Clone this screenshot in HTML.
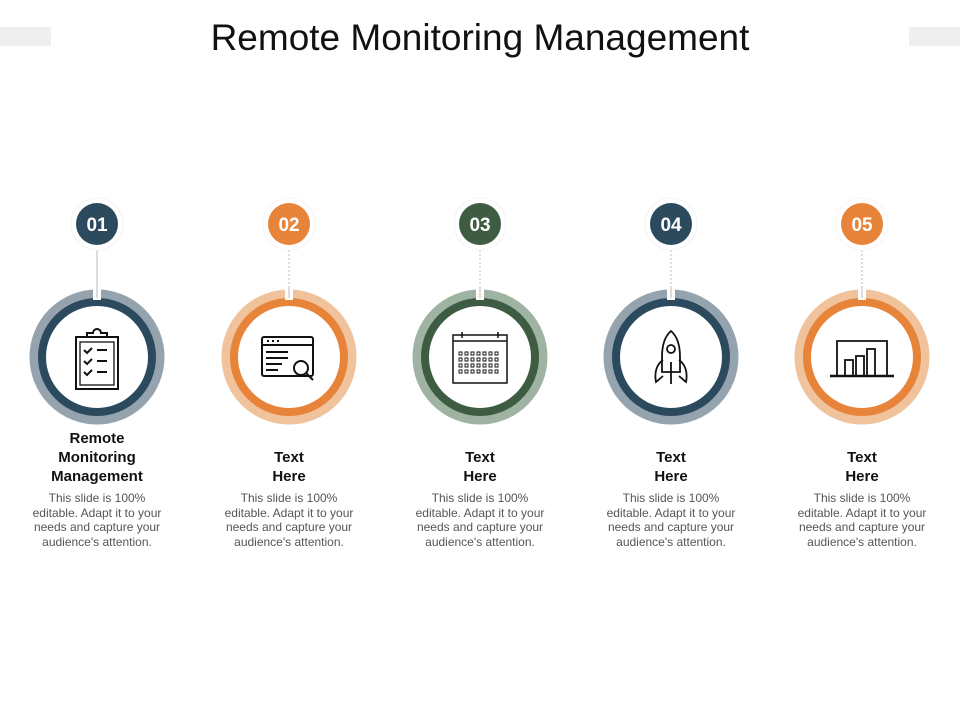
<!DOCTYPE html>
<html><head><meta charset="utf-8"><style>
html,body{margin:0;padding:0;background:#fff;}
body{width:960px;height:720px;position:relative;overflow:hidden;font-family:"Liberation Sans",Arial,sans-serif;}
.title{position:absolute;left:0;width:960px;top:16px;text-align:center;font-size:37px;color:#111;line-height:44px;}
.bar{position:absolute;top:27px;height:19px;width:51px;background:#efefef;}
.lab{position:absolute;width:150px;text-align:center;font-weight:bold;font-size:15px;line-height:19px;color:#111;}
.txt{position:absolute;top:491px;width:150px;text-align:center;font-size:12px;line-height:14.5px;color:#555;}
svg{position:absolute;left:0;top:0;}
</style></head><body>
<div class="bar" style="left:0"></div><div class="bar" style="left:909px"></div>
<div class="title">Remote Monitoring Management</div>
<svg width="960" height="720" viewBox="0 0 960 720">
<g fill="none">
<!-- 1 -->
<g transform="translate(97,0)">
<line x1="0" y1="250" x2="0" y2="297" stroke="#bbb" stroke-width="1"/>
<circle cx="0" cy="224" r="26" fill="#fff" stroke="#f3f3f3" stroke-width="1"/>
<circle cx="0" cy="224" r="21" fill="#2c4a5e"/>
<circle cx="0" cy="357" r="63" stroke="#94a3ad" stroke-width="9"/>
<circle cx="0" cy="357" r="55" stroke="#2c4a5e" stroke-width="8"/>
<rect x="-4" y="288" width="8" height="12" fill="#fff"/>
<line x1="0" y1="288" x2="0" y2="298" stroke="#bbb"/>
<text x="0" y="231" fill="#fff" font-size="19" font-weight="bold" text-anchor="middle" font-family="Liberation Sans,sans-serif">01</text>
<g stroke="#111" stroke-width="2">
<rect x="-21" y="-24" width="42" height="52" transform="translate(0,361)" />
<rect x="-17" y="-19" width="34" height="43" transform="translate(0,361)" stroke-width="1.3"/>
<path d="M-10 337 h20 v-4 h-6 a4 4 0 0 0 -8 0 h-6z" fill="#fff"/>
<path d="M-13 350 l3 3 l5 -5 M0 350 h10 M-13 361 l3 3 l5 -5 M0 361 h10 M-13 372 l3 3 l5 -5 M0 372 h10"/>
</g>
</g>
<!-- 2 -->
<g transform="translate(289,0)">
<line x1="0" y1="250" x2="0" y2="297" stroke="#bbb" stroke-dasharray="2 2"/>
<circle cx="0" cy="224" r="26" fill="#fff" stroke="#fdf3ea"/>
<circle cx="0" cy="224" r="21" fill="#e8843a"/>
<circle cx="0" cy="357" r="63" stroke="#f0c39c" stroke-width="9"/>
<circle cx="0" cy="357" r="55" stroke="#e8843a" stroke-width="8"/>
<rect x="-4" y="288" width="8" height="12" fill="#fff"/>
<line x1="0" y1="288" x2="0" y2="298" stroke="#bbb"/>
<text x="0" y="231" fill="#fff" font-size="19" font-weight="bold" text-anchor="middle" font-family="Liberation Sans,sans-serif">02</text>
<g stroke="#111" stroke-width="2">
<rect x="-27" y="337" width="51" height="39" rx="2"/>
<line x1="-27" y1="345" x2="24" y2="345"/>
<path d="M-22 341 h2 M-17 341 h2 M-12 341 h2 M-23 352 h22 M-23 358 h22 M-23 364 h16 M-23 370 h12"/>
<circle cx="12" cy="368" r="7" fill="#fff"/>
<line x1="17" y1="373" x2="24" y2="380"/>
</g>
</g>
<!-- 3 -->
<g transform="translate(480,0)">
<line x1="0" y1="250" x2="0" y2="297" stroke="#bbb" stroke-dasharray="2 2"/>
<circle cx="0" cy="224" r="26" fill="#fff" stroke="#f3f3f3"/>
<circle cx="0" cy="224" r="21" fill="#3d5c42"/>
<circle cx="0" cy="357" r="63" stroke="#9fb3a2" stroke-width="9"/>
<circle cx="0" cy="357" r="55" stroke="#3d5c42" stroke-width="8"/>
<rect x="-4" y="288" width="8" height="12" fill="#fff"/>
<line x1="0" y1="288" x2="0" y2="298" stroke="#bbb"/>
<text x="0" y="231" fill="#fff" font-size="19" font-weight="bold" text-anchor="middle" font-family="Liberation Sans,sans-serif">03</text>
<g stroke="#111" stroke-width="1.5">
<rect x="-27" y="335" width="54" height="48"/>
<line x1="-27" y1="341" x2="27" y2="341"/>
<path d="M-18 332 v6 M18 332 v6"/>
<g stroke-width="0.9">
<path d="M-21 352h3v3h-3z M-15 352h3v3h-3z M-9 352h3v3h-3z M-3 352h3v3h-3z M3 352h3v3h-3z M9 352h3v3h-3z M15 352h3v3h-3z"/>
<path d="M-21 358h3v3h-3z M-15 358h3v3h-3z M-9 358h3v3h-3z M-3 358h3v3h-3z M3 358h3v3h-3z M9 358h3v3h-3z M15 358h3v3h-3z"/>
<path d="M-21 364h3v3h-3z M-15 364h3v3h-3z M-9 364h3v3h-3z M-3 364h3v3h-3z M3 364h3v3h-3z M9 364h3v3h-3z M15 364h3v3h-3z"/>
<path d="M-21 370h3v3h-3z M-15 370h3v3h-3z M-9 370h3v3h-3z M-3 370h3v3h-3z M3 370h3v3h-3z M9 370h3v3h-3z M15 370h3v3h-3z"/>
</g>
</g>
</g>
<!-- 4 -->
<g transform="translate(671,0)">
<line x1="0" y1="250" x2="0" y2="297" stroke="#bbb" stroke-dasharray="2 2"/>
<circle cx="0" cy="224" r="26" fill="#fff" stroke="#f3f3f3"/>
<circle cx="0" cy="224" r="21" fill="#2c4a5e"/>
<circle cx="0" cy="357" r="63" stroke="#94a3ad" stroke-width="9"/>
<circle cx="0" cy="357" r="55" stroke="#2c4a5e" stroke-width="8"/>
<rect x="-4" y="288" width="8" height="12" fill="#fff"/>
<line x1="0" y1="288" x2="0" y2="298" stroke="#bbb"/>
<text x="0" y="231" fill="#fff" font-size="19" font-weight="bold" text-anchor="middle" font-family="Liberation Sans,sans-serif">04</text>
<g stroke="#111" stroke-width="1.8">
<path d="M0 331 c-7 6 -9 16 -9 26 v15 h18 v-15 c0 -10 -2 -20 -9 -26z"/>
<circle cx="0" cy="349" r="4"/>
<path d="M-8 360 c-6 4 -9 12 -7 22 l7 -6 M8 360 c6 4 9 12 7 22 l-7 -6"/>
<path d="M0 362 v22"/>
</g>
</g>
<!-- 5 -->
<g transform="translate(862,0)">
<line x1="0" y1="250" x2="0" y2="297" stroke="#bbb" stroke-dasharray="2 2"/>
<circle cx="0" cy="224" r="26" fill="#fff" stroke="#fdf3ea"/>
<circle cx="0" cy="224" r="21" fill="#e8843a"/>
<circle cx="0" cy="357" r="63" stroke="#f0c39c" stroke-width="9"/>
<circle cx="0" cy="357" r="55" stroke="#e8843a" stroke-width="8"/>
<rect x="-4" y="288" width="8" height="12" fill="#fff"/>
<line x1="0" y1="288" x2="0" y2="298" stroke="#bbb"/>
<text x="0" y="231" fill="#fff" font-size="19" font-weight="bold" text-anchor="middle" font-family="Liberation Sans,sans-serif">05</text>
<g stroke="#111" stroke-width="1.8">
<path d="M-25 376 v-35 h50 v35"/>
<line x1="-32" y1="376" x2="32" y2="376" stroke-width="2.5"/>
<rect x="-17" y="360" width="8" height="16"/>
<rect x="-6" y="356" width="8" height="20"/>
<rect x="5" y="349" width="8" height="27"/>
</g>
</g>
</g>
</svg>
<div class="lab" style="left:22px;top:429px">Remote<br>Monitoring<br>Management</div>
<div class="lab" style="left:214px;top:448px">Text<br>Here</div>
<div class="lab" style="left:405px;top:448px">Text<br>Here</div>
<div class="lab" style="left:596px;top:448px">Text<br>Here</div>
<div class="lab" style="left:787px;top:448px">Text<br>Here</div>
<div class="txt" style="left:22px">This slide is 100%<br>editable. Adapt it to your<br>needs and capture your<br>audience's attention.</div>
<div class="txt" style="left:214px">This slide is 100%<br>editable. Adapt it to your<br>needs and capture your<br>audience's attention.</div>
<div class="txt" style="left:405px">This slide is 100%<br>editable. Adapt it to your<br>needs and capture your<br>audience's attention.</div>
<div class="txt" style="left:596px">This slide is 100%<br>editable. Adapt it to your<br>needs and capture your<br>audience's attention.</div>
<div class="txt" style="left:787px">This slide is 100%<br>editable. Adapt it to your<br>needs and capture your<br>audience's attention.</div>
</body></html>
